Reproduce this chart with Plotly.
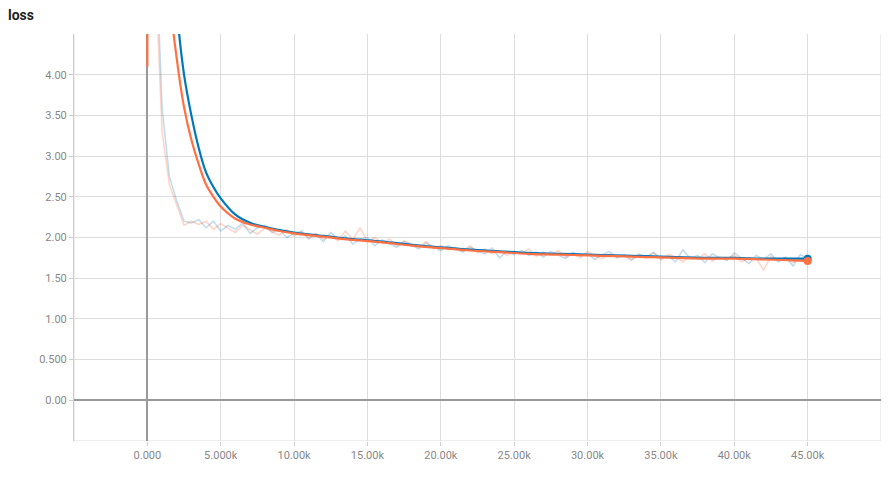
import plotly.graph_objects as go

step = 500
raw_blue = [9.0, 6.0, 3.6, 2.75, 2.45, 2.2, 2.18, 2.22, 2.12, 2.2, 2.08, 2.15, 2.1, 2.18, 2.05, 2.12, 2.15, 2.06, 2.1, 2.0,
            2.05, 2.08, 1.98, 2.04, 1.95, 2.06, 1.98, 2.02, 1.92, 1.98, 2.0, 1.9, 1.97, 1.93, 1.88, 1.95, 1.9, 1.86, 1.93, 1.88,
            1.84, 1.9, 1.86, 1.82, 1.88, 1.84, 1.8, 1.87, 1.75, 1.83, 1.79, 1.84, 1.78, 1.82, 1.76, 1.83, 1.79, 1.74, 1.82, 1.77,
            1.8, 1.73, 1.79, 1.83, 1.75, 1.78, 1.72, 1.8, 1.76, 1.82, 1.74, 1.77, 1.7, 1.85, 1.74, 1.78, 1.69, 1.8, 1.75, 1.72,
            1.81, 1.74, 1.68, 1.78, 1.73, 1.8, 1.7, 1.76, 1.65, 1.79, 1.74]
raw_orange = [10.0, 5.5, 3.3, 2.65, 2.4, 2.15, 2.2, 2.16, 2.2, 2.1, 2.17, 2.12, 2.06, 2.15, 2.1, 2.04, 2.12, 2.08, 2.03, 2.1,
              2.02, 2.07, 2.0, 2.05, 1.98, 2.02, 1.96, 2.08, 1.97, 2.12, 1.95, 2.0, 1.93, 1.98, 1.9, 1.96, 1.92, 1.88, 1.95, 1.86,
              1.9, 1.85, 1.88, 1.83, 1.9, 1.81, 1.86, 1.8, 1.84, 1.78, 1.83, 1.8, 1.86, 1.77, 1.82, 1.78, 1.84, 1.76, 1.8, 1.75,
              1.83, 1.77, 1.74, 1.8, 1.76, 1.79, 1.73, 1.78, 1.75, 1.81, 1.72, 1.79, 1.76, 1.7, 1.77, 1.74, 1.8, 1.71, 1.76, 1.73,
              1.78, 1.7, 1.75, 1.74, 1.6, 1.77, 1.72, 1.75, 1.69, 1.74, 1.71]
x_raw = [i * step for i in range(len(raw_blue))]

x_smooth = [0, 250, 1000, 1500, 2000, 2500, 3000, 3500, 4000, 4500, 5000, 6000, 7000, 8000, 9000, 10000, 12000, 14000,
            16000, 18000, 20000, 22000, 24000, 26000, 28000, 30000, 32000, 34000, 36000, 38000, 40000, 42000, 44000, 45000]
smooth_blue = [12.0, 11.5, 8.0, 6.0, 4.8, 4.0, 3.5, 3.1, 2.8, 2.62, 2.48, 2.28, 2.18, 2.13, 2.09, 2.06, 2.02, 1.98,
               1.95, 1.91, 1.88, 1.85, 1.83, 1.81, 1.8, 1.79, 1.78, 1.77, 1.76, 1.75, 1.75, 1.74, 1.74, 1.74]
smooth_orange = [4.1, 11.0, 7.0, 5.0, 4.2, 3.6, 3.2, 2.9, 2.65, 2.5, 2.38, 2.23, 2.16, 2.12, 2.08, 2.05, 2.01, 1.97,
                 1.94, 1.9, 1.87, 1.84, 1.82, 1.8, 1.79, 1.78, 1.77, 1.76, 1.75, 1.74, 1.74, 1.73, 1.72, 1.71]

x_tickvals = [0, 5000, 10000, 15000, 20000, 25000, 30000, 35000, 40000, 45000]
x_ticktext = ["0.000", "5.000k", "10.00k", "15.00k", "20.00k", "25.00k", "30.00k", "35.00k", "40.00k", "45.00k"]
y_tickvals = [0, 0.5, 1, 1.5, 2, 2.5, 3, 3.5, 4]
y_ticktext = ["0.00", "0.500", "1.00", "1.50", "2.00", "2.50", "3.00", "3.50", "4.00"]

BLUE = "#0077bb"
ORANGE = "#ff7043"

fig = go.Figure()
fig.add_trace(go.Scatter(x=x_raw, y=raw_blue, mode="lines", line=dict(color=BLUE, width=1.5), opacity=0.25))
fig.add_trace(go.Scatter(x=x_raw, y=raw_orange, mode="lines", line=dict(color=ORANGE, width=1.5), opacity=0.3))
fig.add_trace(go.Scatter(x=x_smooth, y=smooth_blue, mode="lines", line=dict(color=BLUE, width=2.2, shape="spline")))
fig.add_trace(go.Scatter(x=x_smooth, y=smooth_orange, mode="lines", line=dict(color=ORANGE, width=2.2, shape="spline")))
fig.add_trace(go.Scatter(x=x_smooth[-1:], y=smooth_blue[-1:], mode="markers", marker=dict(color=BLUE, size=8)))
fig.add_trace(go.Scatter(x=x_smooth[-1:], y=smooth_orange[-1:], mode="markers", marker=dict(color=ORANGE, size=8)))

fig.update_layout(
    width=890, height=477, showlegend=False,
    paper_bgcolor="white", plot_bgcolor="white",
    margin=dict(l=66, r=17, t=26, b=44),
    font=dict(family="Roboto", size=11, color="#888888"),
    title=dict(text="<b>loss</b>", x=0.0, xanchor="left", y=0.995, yanchor="top",
               font=dict(family="Roboto", size=14, color="#222222")),
)
fig.update_xaxes(range=[-5000, 50000], tickvals=x_tickvals, ticktext=x_ticktext,
                 showgrid=True, gridcolor="#dddddd", zeroline=True, zerolinecolor="#999999", zerolinewidth=1.5,
                 showline=False, ticks="outside", ticklen=4, tickcolor="#cccccc")
fig.update_yaxes(range=[-0.5, 4.5], tickvals=y_tickvals, ticktext=y_ticktext,
                 showgrid=True, gridcolor="#dddddd", zeroline=True, zerolinecolor="#999999", zerolinewidth=1.5,
                 showline=True, linecolor="#cccccc", ticks="outside", ticklen=4, tickcolor="#cccccc")
for gx in [-5000, 50000]:
    fig.add_shape(type="line", xref="x", yref="paper", x0=gx, x1=gx, y0=0, y1=1, line=dict(color="#dddddd", width=1), layer="below")
fig.add_shape(type="line", xref="paper", yref="y", x0=0, x1=1, y0=-0.5, y1=-0.5, line=dict(color="#dddddd", width=1), layer="below")

fig.write_html("out.html")
